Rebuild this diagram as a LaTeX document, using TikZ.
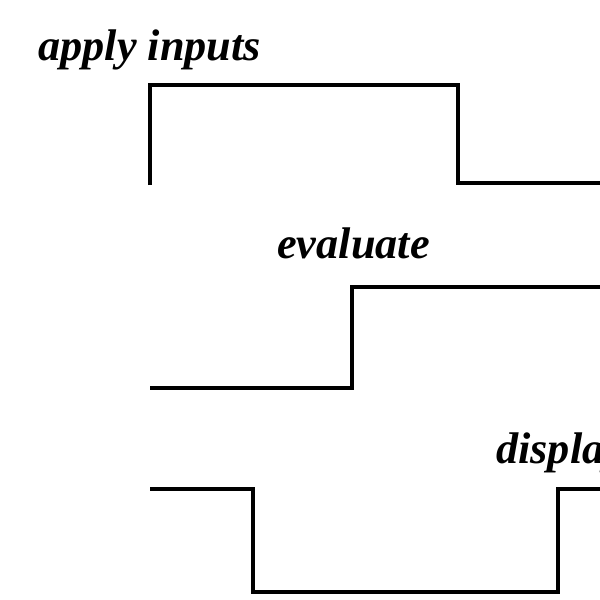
\documentclass[tikz,border=0pt]{standalone}
\usepackage{fontspec}
\setmainfont{Liberation Serif}
\usepackage{xcolor}

\begin{document}
\begin{tikzpicture}[x=0.025cm,y=-0.025cm,
		wave/.style={line width=3.2pt, line join=miter},
		phase/.style={anchor=base west, inner sep=0pt, font=\fontsize{31.5}{36}\selectfont\bfseries\itshape}]
				\clip (0,0) rectangle (600,600);
				\fill[white] (0,0) rectangle (600,600);
				
				% input phase
				\node[phase] (apply) at (38,60) {apply inputs};
				\draw[wave] (150,185) -- (150,85) -- (458,85) -- (458,183) -- (600,183);
				
				% evaluation phase
				\node[phase] (eval) at (277,258) {evaluate};
				\draw[wave] (150,388) -- (352,388) -- (352,287) -- (600,287);
				
				% output phase
				\node[phase] (disp) at (496,463) {display};
				\draw[wave] (150,489) -- (253,489) -- (253,592) -- (558,592) -- (558,489) -- (600,489);
			\end{tikzpicture}
\end{document}
